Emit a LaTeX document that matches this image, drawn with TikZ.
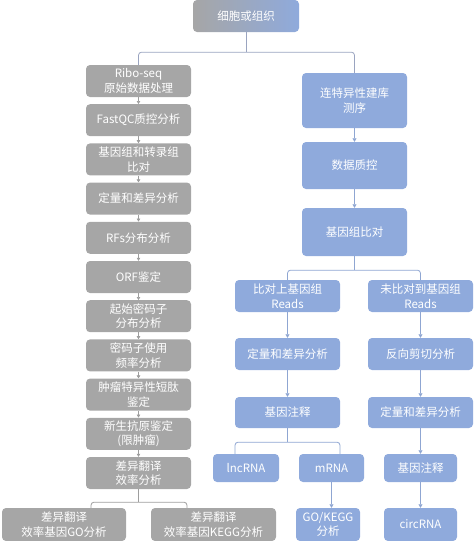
\documentclass[tikz,border=0pt]{standalone}
\usepackage{fontspec}
\setmainfont{Noto Sans CJK SC}
\usetikzlibrary{positioning, arrows.meta}

\definecolor{boxgray}{HTML}{A6A6A6}
\definecolor{boxblue}{HTML}{8FAADC}
\definecolor{linegray}{HTML}{9E9E9E}
\definecolor{lineblue}{HTML}{8FA6D2}
\definecolor{linemix}{HTML}{9AA4C0}

\begin{document}
\begin{tikzpicture}[
        x=1pt, y=-1pt,
        node distance=6.8pt,
        box/.style={rectangle, rounded corners=4pt, text=white, align=center, inner sep=1pt, font=\fontsize{11.5}{14.5}\selectfont},
        graybox/.style={box, fill=boxgray, minimum width=105pt, minimum height=32pt},
        bluebox/.style={box, fill=boxblue},
        garrow/.style={draw=linegray, line width=0.6pt, -{Triangle[length=3pt, width=3.5pt]}},
        barrow/.style={draw=lineblue, line width=0.6pt, -{Triangle[length=3.5pt, width=4pt]}},
        gbrace/.style={draw=linegray, line width=0.8pt, rounded corners=3pt},
        bbrace/.style={draw=lineblue, line width=0.8pt, rounded corners=3pt}
    ]
        \useasboundingbox (0,0) rectangle (474,541);

        %Sample
        \node[box, left color=boxgray, right color=boxblue, minimum width=106pt, minimum height=32pt] (cell) at (246,16) {细胞或组织};

        % Ribo-seq branch
        \node[graybox] (l_raw) at (138.5,81) {Ribo-seq\\原始数据处理};
        \node[graybox, below=of l_raw] (l_qc) {FastQC质控分析};
        \node[graybox, below=of l_qc] (l_map) {基因组和转录组\\比对};
        \node[graybox, below=of l_map] (l_quant) {定量和差异分析};
        \node[graybox, below=of l_quant] (l_rfs) {RFs分布分析};
        \node[graybox, below=of l_rfs] (l_orf) {ORF鉴定};
        \node[graybox, below=of l_orf] (l_start) {起始密码子\\分布分析};
        \node[graybox, below=of l_start] (l_codon) {密码子使用\\频率分析};
        \node[graybox, below=of l_codon] (l_pep) {肿瘤特异性短肽\\鉴定};
        \node[graybox, below=of l_pep] (l_neo) {新生抗原鉴定\\(限肿瘤)};
        \node[graybox, below=of l_neo] (l_te) {差异翻译\\效率分析};
        \node[graybox, minimum width=124pt, minimum height=33pt] (l_go) at (64,524.5) {差异翻译\\效率基因GO分析};
        \node[graybox, minimum width=125pt, minimum height=33pt] (l_kegg) at (213.5,524.5) {差异翻译\\效率基因KEGG分析};

        % Strand-specific library branch
        \node[bluebox, minimum width=105pt, minimum height=55pt] (r_lib) at (354.5,100.5) {连特异性建库\\测序};
        \node[bluebox, minimum width=105pt, minimum height=47pt] (r_qc) at (354.5,165.5) {数据质控};
        \node[bluebox, minimum width=105pt, minimum height=48pt] (r_align) at (354.5,232) {基因组比对};
        \node[bluebox, minimum width=105pt, minimum height=32pt] (r_map) at (287.5,296) {比对上基因组\\Reads};
        \node[bluebox, minimum width=105pt, minimum height=32pt] (r_unmap) at (420.5,296) {未比对到基因组\\Reads};
        \node[bluebox, minimum width=105pt, minimum height=32pt] (r_quant) at (287.5,354) {定量和差异分析};
        \node[bluebox, minimum width=105pt, minimum height=32pt] (r_bsj) at (420.5,354) {反向剪切分析};
        \node[bluebox, minimum width=105pt, minimum height=31pt] (r_annot) at (287.5,412.5) {基因注释};
        \node[bluebox, minimum width=105pt, minimum height=31pt] (r_quant2) at (420.5,412.5) {定量和差异分析};
        \node[bluebox, minimum width=66pt, minimum height=28pt] (r_lnc) at (246,468) {lncRNA};
        \node[bluebox, minimum width=65pt, minimum height=28pt] (r_mrna) at (331.5,468) {mRNA};
        \node[bluebox, minimum width=73pt, minimum height=28pt] (r_annot2) at (420.5,468) {基因注释};
        \node[bluebox, minimum width=64pt, minimum height=33pt] (r_go) at (328,524.5) {GO/KEGG\\分析};
        \node[bluebox, minimum width=73pt, minimum height=33pt] (r_circ) at (420.5,524.5) {circRNA};

        % Split at the top
        \draw[bbrace, draw=linemix] (cell.south) -- ++(0,20) coordinate (t_j);
        \draw[bbrace, draw=linemix] (l_raw.north) |- (t_j) -| (r_lib.north);

        % Left arrows
        \foreach \a/\b in {l_raw/l_qc, l_qc/l_map, l_map/l_quant, l_quant/l_rfs, l_rfs/l_orf, l_orf/l_start, l_start/l_codon, l_codon/l_pep, l_pep/l_neo, l_neo/l_te}
            \draw[garrow] (\a) -- (\b);
        \draw[gbrace] (l_te.south) -- ++(0,13) coordinate (te_j);
        \draw[gbrace] ([xshift=27pt]l_go.north) |- (te_j) -| ([xshift=-26.5pt]l_kegg.north);

        % Right arrows
        \foreach \a/\b in {r_lib/r_qc, r_qc/r_align, r_map/r_quant, r_quant/r_annot, r_unmap/r_bsj, r_bsj/r_quant2, r_quant2/r_annot2, r_annot2/r_circ}
            \draw[barrow] (\a) -- (\b);
        \draw[barrow] (r_mrna.south) -- (r_mrna.south |- r_go.north);
        \draw[bbrace] (r_align.south) -- ++(0,14) coordinate (al_j);
        \draw[bbrace] (r_map.north) |- (al_j) -| (r_unmap.north);
        \draw[bbrace] (r_annot.south) -- ++(0,14) coordinate (an_j);
        \draw[bbrace] ([xshift=-11pt]r_lnc.north) |- (an_j) -| ([xshift=8.5pt]r_mrna.north);

    \end{tikzpicture}
\end{document}
